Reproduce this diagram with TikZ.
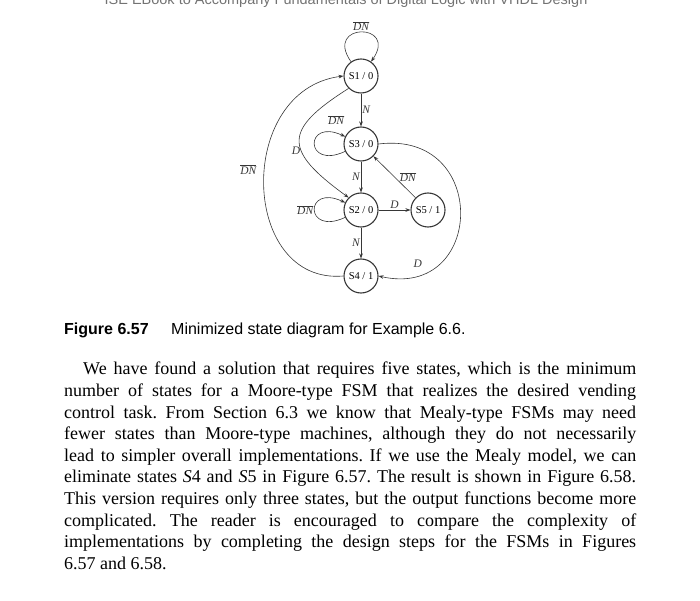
\documentclass[tikz,border=0pt]{standalone}
\usepackage{fontspec}
\setmainfont{Liberation Serif}
\newfontfamily\capfont{Liberation Sans}
\usetikzlibrary{arrows.meta}
\definecolor{FSMGray}{RGB}{55,55,55}
\definecolor{HeadGray}{RGB}{115,115,115}
\newcommand{\ovl}[1]{$\overline{\mbox{\itshape #1}}$}

\begin{document}
\begin{tikzpicture}[x=1pt,y=1pt,
  state/.style={draw=FSMGray,circle,line width=1.1pt,minimum size=34pt,
                inner sep=0pt,font=\fontsize{10.5}{12}\selectfont},
  arr/.style={-{Stealth[length=5pt,width=3.6pt]},line width=0.6pt,FSMGray},
  lbl/.style={font=\fontsize{11.5}{13}\selectfont\itshape,inner sep=1pt,text=FSMGray},
]
\useasboundingbox (0,0) rectangle (700,-601);
\clip (0,0) rectangle (700,-601);
% page header, cut off at the top
\node[anchor=base,font=\capfont\fontsize{14.5}{16}\selectfont,text=HeadGray]
  (head) at (346,-5) {ISE EBook to Accompany Fundamentals of Digital Logic with VHDL Design};
% states
\node[state] (s1) at (361,-76) {S1 / 0};
\node[state] (s3) at (361,-144) {S3 / 0};
\node[state] (s2) at (361,-210) {S2 / 0};
\node[state] (s5) at (428,-210) {S5 / 1};
\node[state] (s4) at (361,-276) {S4 / 1};
% transitions
\draw[arr] (s1.125) .. controls +(125:48) and +(55:48) .. (s1.55)
  node[lbl,pos=0.5,above] (l11) {\ovl{D}\ovl{N}};
\draw[arr] (s1) -- (s3) node[lbl,midway,right] (l13) {N};
\draw[arr] (s1.225) .. controls (283,-130) and (283,-150) .. (s2.135)
  node[lbl,pos=0.6,left] (l12) {D};
\draw[arr] (s3.205) .. controls +(205:45) and +(155:45) .. (s3.155);
\node[lbl] (l33) at (336,-120) {\ovl{D}\ovl{N}};
\draw[arr] (s3) -- (s2) node[lbl,midway,left] (l32) {N};
\draw[arr] (s3.east) .. controls (490,-130) and (485,-300) .. (s4.east)
  node[lbl,pos=0.75,left=16pt] (l34) {D};
\draw[arr] (s2.205) .. controls +(205:45) and +(155:45) .. (s2.155)
  node[lbl,pos=0.5,left] (l22) {\ovl{D}\ovl{N}};
\draw[arr] (s2) -- (s5) node[lbl,midway,above] (l25) {D};
\draw[arr] (s2) -- (s4) node[lbl,midway,left] (l24) {N};
\draw[arr] (s5) -- (s3) node[lbl,midway,right=4pt] (l53) {\ovl{D}\ovl{N}};
\draw[arr] (s4.west) .. controls (240,-285) and (235,-90) .. (s1.west)
  node[lbl,pos=0.55,left=7pt] (l41) {\ovl{D}\ovl{N}};
% caption
\node[anchor=base west,inner sep=0pt,font=\capfont\bfseries\fontsize{16}{19}\selectfont]
  (fig) at (64,-334) {Figure 6.57};
\node[anchor=base west,inner sep=0pt,font=\capfont\fontsize{16}{19}\selectfont]
  (cap) at (171,-334) {Minimized state diagram for Example 6.6.};
% body text
\node[anchor=north west,inner sep=0pt,text width=572pt,align=justify,
      font=\fontsize{18}{21.6}\selectfont] (body) at (64,-362)
  {\frenchspacing\hyphenpenalty=10000\hspace*{19pt}We have found a solution that requires five states, which is the minimum\linebreak
   number of states for a Moore-type FSM that realizes the desired vending\linebreak
   control task. From Section 6.3 we know that Mealy-type FSMs may need\linebreak
   fewer states than Moore-type machines, although they do not necessarily\linebreak
   lead to simpler overall implementations. If we use the Mealy model, we can\linebreak
   eliminate states \textit{S}4 and \textit{S}5 in Figure 6.57. The result is shown in Figure 6.58.\linebreak
   This version requires only three states, but the output functions become more\linebreak
   complicated. The reader is encouraged to compare the complexity of\linebreak
   implementations by completing the design steps for the FSMs in Figures\linebreak
   6.57 and 6.58.};
\end{tikzpicture}
\end{document}
